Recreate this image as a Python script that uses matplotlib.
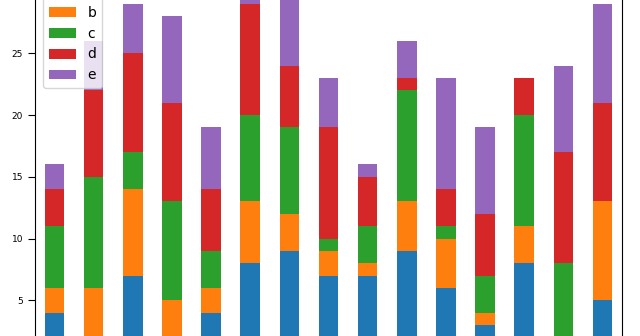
import matplotlib
matplotlib.use("Agg")
import matplotlib.pyplot as plt
import numpy as np

# stacked segment values per bar (15 bars)
a = [4, 1, 7, 1, 4, 8, 9, 7, 7, 9, 6, 3, 8, 1, 5]
b = [2, 5, 7, 4, 2, 5, 3, 2, 1, 4, 4, 1, 3, 0, 8]
c = [5, 9, 3, 8, 3, 7, 7, 1, 3, 9, 1, 3, 9, 7, 0]
d = [3, 7, 8, 8, 5, 9, 5, 9, 4, 1, 3, 5, 3, 9, 8]
e = [2, 4, 4, 7, 5, 2, 7, 4, 1, 3, 9, 7, 0, 7, 8]

series = {"a": a, "b": b, "c": c, "d": d, "e": e}
colors = ["#1f77b4", "#ff7f0e", "#2ca02c", "#d62728", "#9467bd"]
yticks = [5, 10, 15, 20, 25]

W, H = 640, 336
fig = plt.figure(figsize=(W / 100, H / 100), dpi=100)

# the axes run past the top and bottom of the frame, like a cropped plot
px_per_unit = 12.354
y0_px = 362.1
ytop = 31.5
bottom = 1 - y0_px / H
top = 1 + (ytop * px_per_unit - y0_px) / H
ax = fig.add_axes([35 / W, bottom, 587 / W, top - bottom])

x = np.arange(len(a))
base = np.zeros(len(a))
handles = []
for (name, vals), col in zip(series.items(), colors):
    h = ax.bar(x, vals, width=0.5, bottom=base, color=col, label=name)
    handles.append(h)
    base = base + np.array(vals)

ax.set_xlim(-0.5, len(a) - 0.5)
ax.set_ylim(0, ytop)
ax.set_yticks(yticks)
ax.tick_params(axis="y", labelsize=6.5, length=5, width=0.8)
ax.set_xticks([])

fig.legend(handles=handles, labels=list(series.keys()), loc="lower left",
           bbox_to_anchor=(43 / W, 1 - 88 / H), borderaxespad=0,
           fontsize=10, framealpha=0.8)

fig.savefig("out.png", dpi=100)
